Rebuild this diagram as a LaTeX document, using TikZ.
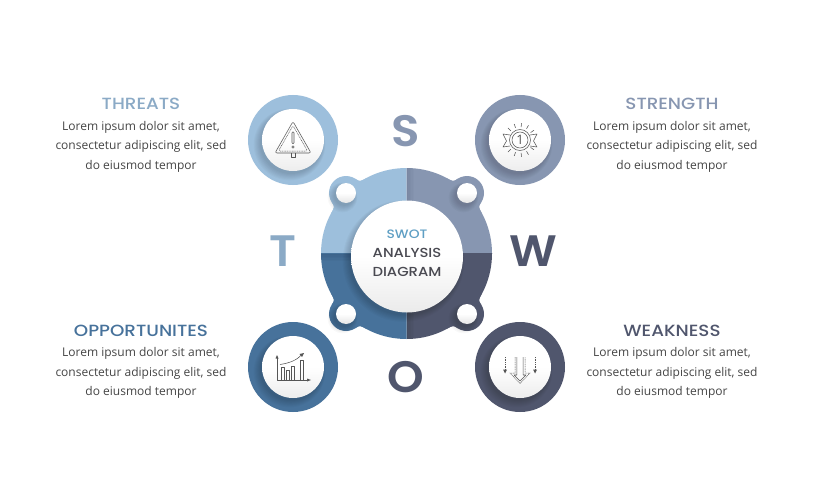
\documentclass[tikz,border=0pt]{standalone}
\usepackage{fontspec}
\setmainfont{Open Sans}
\newfontfamily\hfont{Poppins Medium}[FakeStretch=1.13]
\newfontfamily\lfont{Poppins SemiBold}[FakeStretch=1.06]
\usetikzlibrary{calc}
\definecolor{cthreat}{HTML}{9DBFDC}
\definecolor{cthreattext}{HTML}{8BAAC6}
\definecolor{cstrength}{HTML}{8796B1}
\definecolor{coppo}{HTML}{47729B}
\definecolor{cweak}{HTML}{50566D}
\definecolor{cbody}{HTML}{454545}
\definecolor{cswot}{HTML}{5F9FC4}
\definecolor{cicon}{HTML}{555555}
\definecolor{chub}{HTML}{4A4A52}
\newcommand{\softshadow}[4]{% x y r strength
  \foreach \d in {0,1,...,6}{
    \fill[black,opacity=#4] (#1-2-\d*0.25,#2+3+\d*0.25) circle ({#3+\d*0.8});
  }}
% quadrant: clip corner x, y, colour
\newcommand{\quadrant}[3]{%
  \begin{scope}
    \clip (406.5,253.5) rectangle (#1,#2);
    \fill[#3] (406.5,253.5) circle (85.5);
  \end{scope}}
% fillets between a knob lobe and the wheel: angle, knob x, knob y, colour
\newcommand{\fillets}[4]{%
  \fill[#4] ($(406.5,253.5)+(#1+17:85.3)$) .. controls ($(406.5,253.5)+(#1+12:85.8)$) .. ($(#2,#3)+(#1+78:17)$) -- (#2,#3) -- (406.5,253.5) -- cycle;
  \fill[#4] ($(406.5,253.5)+(#1-17:85.3)$) .. controls ($(406.5,253.5)+(#1-12:85.8)$) .. ($(#2,#3)+(#1-78:17)$) -- (#2,#3) -- (406.5,253.5) -- cycle;
}
\tikzset{
  ring/.style={circle,minimum size=90pt,inner sep=0pt,draw=none},
  disc/.style={circle,minimum size=62pt,inner sep=0pt,draw=none,top color=white,bottom color=white!93!black,middle color=white},
  knob/.style={circle,minimum size=20pt,inner sep=0pt,draw=none,top color=white,bottom color=white!90!black,middle color=white},
  hub/.style={circle,minimum size=112pt,inner sep=0pt,draw=none,top color=white,bottom color=white!92!black,middle color=white},
  heading/.style={font=\hfont\fontsize{16.2}{18}\selectfont,inner sep=0pt},
  letter/.style={font=\lfont\fontsize{44}{50}\selectfont,inner sep=0pt},
  bodytext/.style={font=\fontsize{12}{19.6}\selectfont,text=cbody,align=center,inner sep=0pt},
  hubtext/.style={font=\hfont\fontsize{13.1}{16}\selectfont,inner sep=0pt},
  ico/.style={draw=cicon,line width=0.55pt,line join=round},
  icod/.style={draw=cicon,line width=0.5pt,dash pattern=on 1pt off 0.7pt},
}
\begin{document}
\begin{tikzpicture}[x=1pt,y=-1pt]
\useasboundingbox (0,0) rectangle (813,500);
\fill[white] (0,0) rectangle (813,500);

% outer rings
\node[ring,fill=cthreat] (rt) at (293,140) {};
\node[ring,fill=cstrength] (rs) at (520,140) {};
\node[ring,fill=coppo] (ro) at (293,367) {};
\node[ring,fill=cweak] (rw) at (520,367) {};
\softshadow{293}{140}{31}{0.025}
\softshadow{520}{140}{31}{0.025}
\softshadow{293}{367}{31}{0.025}
\softshadow{520}{367}{31}{0.025}
\node[disc] (dt) at (293,140) {};
\node[disc] (ds) at (520,140) {};
\node[disc] (do) at (293,367) {};
\node[disc] (dw) at (520,367) {};

% central wheel
\fill[cthreat] (346,193) circle (17);
\fill[cstrength] (467,193) circle (17);
\fill[coppo] (346,314) circle (17);
\fill[cweak] (467,314) circle (17);
\fillets{225}{346}{193}{cthreat}
\fillets{315}{467}{193}{cstrength}
\fillets{135}{346}{314}{coppo}
\fillets{45}{467}{314}{cweak}
\quadrant{310}{160}{cthreat}
\quadrant{500}{160}{cstrength}
\quadrant{500}{345}{cweak}
\quadrant{310}{345}{coppo}
% faint shade where the sectors meet
\begin{scope}
  \clip (406.5,253.5) circle (85.5);
  \foreach \w in {1,2,...,5}{
    \fill[black,opacity=0.015] (406.5,168) rectangle (406.5+\w*1.5,253.5);
    \fill[black,opacity=0.02] (321,253.5) rectangle (406.5,253.5+\w*1.5);
    \fill[black,opacity=0.02] (406.5,253.5) rectangle (406.5+\w*1.5,339);
  }
\end{scope}
\softshadow{346}{193}{10}{0.025}
\softshadow{467}{193}{10}{0.025}
\softshadow{346}{314}{10}{0.025}
\softshadow{467}{314}{10}{0.025}
\node[knob] (kt) at (346,193) {};
\node[knob] (ks) at (467,193) {};
\node[knob] (ko) at (346,314) {};
\node[knob] (kw) at (467,314) {};
\softshadow{407}{256.5}{56}{0.025}
\node[hub] (hub) at (407,256.5) {};

% hub text
\node[hubtext,text=cswot,font=\hfont\fontsize{12.2}{16}\selectfont] (h1) at (407,234) {SWOT};
\node[hubtext,text=chub] (h2) at (407,253) {ANALYSIS};
\node[hubtext,text=chub] (h3) at (407,272) {DIAGRAM};

% letters
\node[letter,text=cstrength] (ls) at (406,131) {S};
\node[letter,text=cthreattext] (lt) at (283,251) {T};
\node[letter,text=cweak] (lw) at (533,251) {W};
\node[letter,text=cweak] (lo) at (406,377) {O};

% headings and paragraphs
\node[heading,text=cthreattext] (t1) at (141,103.5) {THREATS};
\node[heading,text=cstrength] (t2) at (672,103.5) {STRENGTH};
\node[heading,text=coppo] (t3) at (141,330.5) {OPPORTUNITES};
\node[heading,text=cweak] (t4) at (672,330.5) {WEAKNESS};
\node[bodytext] (b1) at (141,146.5) {Lorem ipsum dolor sit amet,\\consectetur adipiscing elit, sed\\do eiusmod tempor};
\node[bodytext] (b2) at (672,146.5) {Lorem ipsum dolor sit amet,\\consectetur adipiscing elit, sed\\do eiusmod tempor};
\node[bodytext] (b3) at (141,373) {Lorem ipsum dolor sit amet,\\consectetur adipiscing elit, sed\\do eiusmod tempor};
\node[bodytext] (b4) at (672,373) {Lorem ipsum dolor sit amet,\\consectetur adipiscing elit, sed\\do eiusmod tempor};

% warning icon
\draw[ico,rounded corners=2pt] (293,121.5) -- (311,153) -- (275,153) -- cycle;
\draw[icod,rounded corners=1.5pt] (293,125.5) -- (307.5,151) -- (278.5,151) -- cycle;
\draw[ico] (291,153) -- (291,157.5) -- (295,157.5) -- (295,153);
\draw[ico,rounded corners=0.8pt] (292,132) rectangle (294,143.5);
\draw[ico] (293,147) circle (1.3);

% medal icon
\draw[ico] (520,140) circle (10.5);
\draw[ico] (520,140) circle (8);
\node[font=\fontsize{13}{13}\selectfont,text=cicon,inner sep=0pt] (m1) at (520,140) {1};
\foreach \a in {35,60,...,145}{
  \draw[ico] ($(520,140)+(\a:13)$) -- ($(520,140)+(\a:17)$);
  \draw[ico] ($(520,140)+(-\a:13)$) -- ($(520,140)+(-\a:17)$);
}
\draw[ico] (510,135) -- (503,134) -- (506.5,141) -- (503,147) -- (510,146);
\draw[ico] (530,135) -- (537,134) -- (533.5,141) -- (537,147) -- (530,146);

% chart icon
\draw[ico] (277,357) -- (277,380) -- (308,380);
\fill[cicon] (277,355) -- (275.5,358.5) -- (278.5,358.5) -- cycle;
\fill[cicon] (311,380) -- (307,378.5) -- (307,381.5) -- cycle;
\foreach \x/\t in {281.5/367.5,286/370,291/366,300/360}{
  \draw[ico] (\x,380) -- (\x,\t) -- (\x+3.2,\t) -- (\x+3.2,380);
}
\draw[ico] (280,364.5) .. controls (290,363) and (297,360) .. (302,354.5);
\fill[cicon] (304,353) -- (299.5,354) -- (302,357) -- cycle;

% down arrows icon
\draw[icod] (515,357) -- (515,373) -- (510,373) -- (520,383.5) -- (530,373) -- (525,373) -- (525,357);
\draw[ico] (516.8,357) -- (516.8,375) -- (514,375) -- (520,381) -- (526,375) -- (523.2,375) -- (523.2,357);
\draw[icod] (505,357) -- (505,370);
\draw[icod] (535,357) -- (535,370);
\fill[cicon] (505,373.5) -- (503,369.5) -- (507,369.5) -- cycle;
\fill[cicon] (535,373.5) -- (533,369.5) -- (537,369.5) -- cycle;
\end{tikzpicture}
\end{document}
